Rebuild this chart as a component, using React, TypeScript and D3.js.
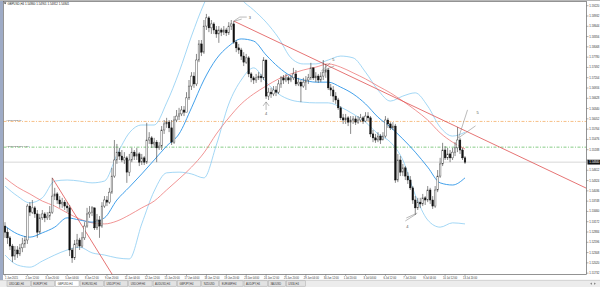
import React from "react";
import * as d3 from "d3";

const W = 600;
const H = 287;

const titleText = "GBPUSD,H4  1.54860 1.54901 1.54812 1.54841";

// H4 candles (open = previous close)
const firstOpen = 1.5305;
const closes = [
  1.5288, 1.5272, 1.5249, 1.5221, 1.5238, 1.5227, 1.5244, 1.5255, 1.5266, 1.5361,
  1.5344, 1.5356, 1.5339, 1.5288, 1.5328, 1.5339, 1.5328, 1.5333, 1.5344, 1.5389,
  1.5395, 1.5378, 1.5367, 1.5372, 1.5361, 1.5356, 1.5238, 1.5216, 1.5255, 1.5266,
  1.5249, 1.5272, 1.5305, 1.5339, 1.5344, 1.5356, 1.5300, 1.5322, 1.5305, 1.5361,
  1.5378, 1.5372, 1.5400, 1.5445, 1.5490, 1.5512, 1.5501, 1.5490, 1.5496, 1.5456,
  1.5490, 1.5512, 1.5501, 1.5507, 1.5484, 1.5496, 1.5484, 1.5546, 1.5552, 1.5535,
  1.5540, 1.5524, 1.5529, 1.5574, 1.5591, 1.5596, 1.5580, 1.5540, 1.5602, 1.5613,
  1.5619, 1.5630, 1.5624, 1.5664, 1.5697, 1.5725, 1.5703, 1.5770, 1.5815, 1.5792,
  1.5865, 1.5888, 1.5860, 1.5871, 1.5854, 1.5843, 1.5854, 1.5848, 1.5854, 1.5846,
  1.5865, 1.5871, 1.5820, 1.5804, 1.5798, 1.5781, 1.5764, 1.5776, 1.5731, 1.5720,
  1.5714, 1.5720, 1.5725, 1.5720, 1.5770, 1.5669, 1.5680, 1.5675, 1.5686, 1.5680,
  1.5703, 1.5720, 1.5714, 1.5720, 1.5714, 1.5720, 1.5731, 1.5703, 1.5708, 1.5697,
  1.5708, 1.5714, 1.5720, 1.5748, 1.5720, 1.5725, 1.5714, 1.5725, 1.5736, 1.5742,
  1.5692, 1.5686, 1.5669, 1.5658, 1.5636, 1.5608, 1.5602, 1.5608, 1.5596, 1.5602,
  1.5605, 1.5596, 1.5602, 1.5608, 1.5599, 1.5613, 1.5608, 1.5563, 1.5552, 1.5546,
  1.5557, 1.5546, 1.5557, 1.5602, 1.5591, 1.5580, 1.5585, 1.5434, 1.5490, 1.5456,
  1.5468, 1.5445, 1.5434, 1.5412, 1.5378, 1.5356, 1.5372, 1.5367, 1.5384, 1.5378,
  1.5406, 1.5378, 1.5361, 1.5406, 1.5445, 1.5479, 1.5518, 1.5496, 1.5507, 1.5496,
  1.5512, 1.5524, 1.5546, 1.5518, 1.5496, 1.5484,
];
const highs = [
  1.5316, 1.5300, 1.5277, 1.5255, 1.5249, 1.5249, 1.5255, 1.5272, 1.5277, 1.5367,
  1.5372, 1.5378, 1.5361, 1.5350, 1.5339, 1.5350, 1.5344, 1.5344, 1.5361, 1.5440,
  1.5412, 1.5400, 1.5389, 1.5384, 1.5378, 1.5372, 1.5364, 1.5244, 1.5266, 1.5283,
  1.5272, 1.5288, 1.5316, 1.5356, 1.5361, 1.5361, 1.5356, 1.5339, 1.5333, 1.5372,
  1.5389, 1.5389, 1.5412, 1.5468, 1.5546, 1.5535, 1.5524, 1.5518, 1.5512, 1.5501,
  1.5507, 1.5524, 1.5518, 1.5524, 1.5512, 1.5507, 1.5501, 1.5594, 1.5568, 1.5557,
  1.5552, 1.5546, 1.5540, 1.5585, 1.5602, 1.5608, 1.5602, 1.5602, 1.5613, 1.5630,
  1.5636, 1.5641, 1.5641, 1.5680, 1.5714, 1.5736, 1.5736, 1.5787, 1.5826, 1.5826,
  1.5882, 1.5899, 1.5893, 1.5882, 1.5876, 1.5865, 1.5865, 1.5860, 1.5865, 1.5860,
  1.5876, 1.5882, 1.5879, 1.5826, 1.5815, 1.5804, 1.5792, 1.5787, 1.5781, 1.5736,
  1.5725, 1.5731, 1.5736, 1.5731, 1.5778, 1.5770, 1.5692, 1.5692, 1.5697, 1.5697,
  1.5714, 1.5725, 1.5728, 1.5731, 1.5725, 1.5728, 1.5748, 1.5742, 1.5720, 1.5714,
  1.5720, 1.5725, 1.5731, 1.5762, 1.5742, 1.5736, 1.5731, 1.5736, 1.5770, 1.5759,
  1.5748, 1.5703, 1.5697, 1.5680, 1.5664, 1.5641, 1.5619, 1.5619, 1.5613, 1.5613,
  1.5613, 1.5613, 1.5613, 1.5619, 1.5613, 1.5624, 1.5624, 1.5613, 1.5574, 1.5563,
  1.5568, 1.5563, 1.5568, 1.5613, 1.5608, 1.5596, 1.5596, 1.5591, 1.5507, 1.5501,
  1.5479, 1.5473, 1.5456, 1.5445, 1.5417, 1.5389, 1.5384, 1.5384, 1.5395, 1.5389,
  1.5417, 1.5412, 1.5389, 1.5417, 1.5462, 1.5496, 1.5538, 1.5529, 1.5524, 1.5518,
  1.5524, 1.5540, 1.5582, 1.5552, 1.5524, 1.5501,
];
const lows = [
  1.5272, 1.5255, 1.5238, 1.5204, 1.5210, 1.5216, 1.5221, 1.5232, 1.5244, 1.5255,
  1.5333, 1.5339, 1.5328, 1.5272, 1.5283, 1.5322, 1.5316, 1.5322, 1.5322, 1.5339,
  1.5378, 1.5367, 1.5356, 1.5356, 1.5350, 1.5344, 1.5221, 1.5202, 1.5210, 1.5244,
  1.5238, 1.5244, 1.5266, 1.5300, 1.5328, 1.5333, 1.5294, 1.5294, 1.5272, 1.5300,
  1.5356, 1.5361, 1.5367, 1.5395, 1.5440, 1.5479, 1.5490, 1.5484, 1.5479, 1.5426,
  1.5445, 1.5484, 1.5490, 1.5490, 1.5473, 1.5476, 1.5476, 1.5479, 1.5535, 1.5524,
  1.5524, 1.5484, 1.5518, 1.5518, 1.5563, 1.5580, 1.5568, 1.5532, 1.5535, 1.5596,
  1.5602, 1.5613, 1.5613, 1.5624, 1.5658, 1.5686, 1.5692, 1.5697, 1.5764, 1.5781,
  1.5787, 1.5854, 1.5848, 1.5843, 1.5843, 1.5832, 1.5818, 1.5837, 1.5840, 1.5837,
  1.5840, 1.5854, 1.5815, 1.5792, 1.5787, 1.5770, 1.5753, 1.5759, 1.5722, 1.5708,
  1.5703, 1.5706, 1.5714, 1.5708, 1.5714, 1.5661, 1.5658, 1.5664, 1.5669, 1.5669,
  1.5675, 1.5692, 1.5703, 1.5708, 1.5703, 1.5708, 1.5714, 1.5697, 1.5697, 1.5652,
  1.5692, 1.5686, 1.5703, 1.5714, 1.5714, 1.5708, 1.5706, 1.5708, 1.5714, 1.5720,
  1.5686, 1.5669, 1.5652, 1.5647, 1.5630, 1.5602, 1.5591, 1.5591, 1.5585, 1.5563,
  1.5591, 1.5588, 1.5591, 1.5596, 1.5591, 1.5596, 1.5599, 1.5554, 1.5540, 1.5538,
  1.5540, 1.5535, 1.5546, 1.5552, 1.5580, 1.5574, 1.5574, 1.5426, 1.5428, 1.5445,
  1.5445, 1.5434, 1.5423, 1.5406, 1.5367, 1.5336, 1.5350, 1.5356, 1.5361, 1.5364,
  1.5372, 1.5367, 1.5353, 1.5356, 1.5400, 1.5440, 1.5473, 1.5490, 1.5490, 1.5484,
  1.5490, 1.5501, 1.5512, 1.5507, 1.5490, 1.5479,
];

// indicator lines at these bar indices
const sampleBars = [
  0, 5, 10, 15, 20, 25, 30, 35, 40, 45, 50, 55, 60, 65, 70, 75, 80, 85, 90,
  95, 100, 105, 110, 115, 120, 125, 130, 135, 140, 145, 150, 155, 160, 165,
  170, 175, 180, 185,
];
const maFast = [
  1.5305, 1.5283, 1.5274, 1.5286, 1.5302, 1.5328, 1.5322, 1.5316, 1.5328, 1.5378,
  1.5414, 1.5451, 1.5490, 1.5529, 1.5563, 1.5636, 1.5714, 1.5773, 1.5809, 1.5829,
  1.5823, 1.5784, 1.5750, 1.5725, 1.5714, 1.5708, 1.5708, 1.5694, 1.5675, 1.5647,
  1.5610, 1.5582, 1.5549, 1.5512, 1.5470, 1.5426, 1.5420, 1.5440,
];
const bandUpper = [
  1.5417, 1.5389, 1.5370, 1.5384, 1.5431, 1.5434, 1.5431, 1.5426, 1.5431, 1.5504,
  1.5566, 1.5588, 1.5588, 1.5650, 1.5736, 1.5837, 1.5927, 1.5994, 1.6000, 1.5941,
  1.5910, 1.5876, 1.5832, 1.5776, 1.5759, 1.5759, 1.5770, 1.5781, 1.5776, 1.5736,
  1.5686, 1.5655, 1.5669, 1.5678, 1.5641, 1.5582, 1.5557, 1.5568,
];
const bandLower = [
  1.5224, 1.5196, 1.5190, 1.5207, 1.5224, 1.5238, 1.5246, 1.5230, 1.5224, 1.5216,
  1.5213, 1.5311, 1.5403, 1.5454, 1.5456, 1.5451, 1.5440, 1.5532, 1.5647, 1.5714,
  1.5748, 1.5708, 1.5675, 1.5658, 1.5652, 1.5650, 1.5650, 1.5638, 1.5619, 1.5596,
  1.5563, 1.5540, 1.5490, 1.5392, 1.5322, 1.5302, 1.5314, 1.5311,
];
const maSlow = [
  1.5440, 1.5414, 1.5395, 1.5375, 1.5361, 1.5342, 1.5325, 1.5314, 1.5311, 1.5319,
  1.5336, 1.5356, 1.5375, 1.5406, 1.5437, 1.5470, 1.5510, 1.5563, 1.5608, 1.5647,
  1.5675, 1.5697, 1.5717, 1.5731, 1.5742, 1.5750, 1.5759, 1.5750, 1.5734, 1.5717,
  1.5697, 1.5678, 1.5655, 1.5630, 1.5602, 1.5566, 1.5540, 1.5521,
];

const timeLabels: [number, string][] = [
  [0, "1 Jun 2015"], [9, "2 Jun 12:00"], [17, "3 Jun 20:00"], [25, "5 Jun 04:00"],
  [33, "8 Jun 12:00"], [41, "9 Jun 20:00"], [49, "11 Jun 04:00"], [57, "12 Jun 12:00"],
  [65, "15 Jun 20:00"], [73, "17 Jun 04:00"], [81, "18 Jun 12:00"], [89, "19 Jun 20:00"],
  [97, "23 Jun 04:00"], [105, "24 Jun 12:00"], [113, "25 Jun 20:00"], [121, "29 Jun 04:00"],
  [129, "30 Jun 12:00"], [137, "1 Jul 20:00"], [145, "3 Jul 04:00"], [153, "6 Jul 12:00"],
  [161, "7 Jul 20:00"], [169, "9 Jul 04:00"], [177, "10 Jul 12:00"], [185, "13 Jul 20:00"],
];

const priceTicks = [
  1.5922, 1.58932, 1.58644, 1.58356, 1.58068, 1.5778, 1.57492, 1.57204, 1.56916,
  1.56628, 1.5634, 1.56052, 1.55764, 1.55476, 1.55188, 1.549, 1.54612, 1.54324,
  1.54036, 1.53748, 1.5346, 1.53172, 1.52884, 1.52596, 1.52308, 1.5202, 1.51732,
];

const trendLines = [
  { b1: 92, p1: 1.5879, b2: 182, p2: 1.5582 },
  { b1: 19, p1: 1.544, b2: 43, p2: 1.5171 },
];

const orderLines = [
  { price: 1.5598, label: "#17099862 tp", color: "#f2a452" },
  { price: 1.5526, label: "#17099862 sell 0.10", color: "#52b552" },
];
const bidPrice = 1.5484;

const waveMarks = [
  { label: "3", bar: 92, price: 1.5879 },
  { label: "4", bar: 105, price: 1.5661 },
  { label: "5", bar: 128, price: 1.5742 },
  { label: "4", bar: 165, price: 1.5336 },
  { label: "5", bar: 182, price: 1.5552 },
];

const tabs = [
  "USDCAD,H4", "EURJPY,H4", "GBPUSD,H4", "EURUSD,H4", "USDJPY,H4", "USDCHF,H4",
  "AUDUSD,H4", "GBPJPY,H4", "NZDUSD", "EURGBP,H4", "AUDJPY,H4", "XAUUSD", "US30,H4",
];
const activeTab = "GBPUSD,H4";

const FONT = "'Liberation Sans', Arial, sans-serif";

export default function App() {
  const plot = { l: 3.5, t: 1.5, r: 586.5, b: 274.5 };
  const x = d3.scaleLinear().domain([0, 185]).range([5, 465]);
  const y = d3.scaleLinear().domain([1.5168, 1.5938]).range([275, 0]);

  const candles = closes.map((c, i) => {
    const o = i === 0 ? firstOpen : closes[i - 1];
    return {
      i, o, c,
      h: Math.max(highs[i], o, c),
      l: Math.min(lows[i], o, c),
    };
  });

  const line = d3
    .line<number>()
    .x((_, k) => x(sampleBars[k]))
    .y((v) => y(v))
    .curve(d3.curveMonotoneX);

  const bodyW = 1.6;

  const ext = (t: { b1: number; p1: number; b2: number; p2: number }) => {
    const x1 = x(t.b1), y1 = y(t.p1), x2 = x(t.b2), y2 = y(t.p2);
    const s = (y2 - y1) / (x2 - x1);
    const xe = plot.r;
    return { x1, y1, x2: xe, y2: y1 + s * (xe - x1) };
  };

  let tabX = 7;
  const tabRects = tabs.map((name) => {
    const w = name.length * 2.15 + 4;
    const r = { name, x: tabX, w };
    tabX += w + 1;
    return r;
  });

  const markEls = waveMarks.map((m, k) => {
    const mx = x(m.bar);
    const my = y(m.price);
    const st = { stroke: "#777", strokeWidth: 0.5, fill: "none" };
    if (k === 0) {
      return (
        <g key={k}>
          <polyline points={`${mx},${my} ${mx + 6},${my - 4} ${mx + 13},${my - 4}`} {...st} />
          <line x1={mx + 1} y1={my} x2={mx + 8} y2={my - 2} {...st} />
          <text x={mx + 15} y={my - 2} fontSize={4} fill="#555" fontFamily={FONT}>{m.label}</text>
        </g>
      );
    }
    if (k === 1) {
      return (
        <g key={k}>
          <line x1={mx} y1={my + 3} x2={mx} y2={my + 11} {...st} />
          <polyline points={`${mx - 3},${my + 7} ${mx},${my + 3} ${mx + 3},${my + 7}`} {...st} />
          <text x={mx - 1} y={my + 16} fontSize={4} fill="#555" fontFamily={FONT}>{m.label}</text>
        </g>
      );
    }
    if (k === 2) {
      return (
        <g key={k}>
          <line x1={mx - 2} y1={my + 1} x2={mx + 7} y2={my - 7} {...st} />
          <line x1={mx - 1} y1={my + 1} x2={mx + 11} y2={my - 4} {...st} />
          <text x={mx + 9} y={my - 9} fontSize={4} fill="#555" fontFamily={FONT}>{m.label}</text>
        </g>
      );
    }
    if (k === 3) {
      return (
        <g key={k}>
          <line x1={mx - 10} y1={my + 6} x2={mx + 1} y2={my - 1} {...st} />
          <line x1={mx - 9} y1={my + 3} x2={mx + 2} y2={my - 2} {...st} />
          <text x={mx - 9} y={my + 13} fontSize={4} fill="#555" fontFamily={FONT}>{m.label}</text>
        </g>
      );
    }
    return (
      <g key={k}>
        <line x1={mx + 1} y1={my} x2={mx + 10} y2={my - 28} {...st} />
        <line x1={mx + 1} y1={my} x2={mx + 18} y2={my - 12} {...st} />
        <text x={mx + 19} y={my - 24} fontSize={4} fill="#555" fontFamily={FONT}>{m.label}</text>
      </g>
    );
  });

  const bidY = y(bidPrice);

  return (
    <svg
      width={W}
      height={H}
      viewBox={`0 0 ${W} ${H}`}
      style={{ position: "fixed", left: 0, top: 0, background: "#fff" }}
    >
      <defs>
        <clipPath id="plotClip">
          <rect x={plot.l} y={plot.t} width={plot.r - plot.l} height={plot.b - plot.t} />
        </clipPath>
      </defs>
      <rect x={0} y={0} width={W} height={H} fill="#fff" />
      <line x1={0} y1={0.5} x2={W} y2={0.5} stroke="#b8b8b8" strokeWidth={1} />
      <rect x={0} y={1} width={3} height={279} fill="#9eabc6" />

      <g clipPath="url(#plotClip)">
        {orderLines.map((o, k) => (
          <g key={k}>
            <line
              x1={plot.l} x2={plot.r} y1={y(o.price)} y2={y(o.price)}
              stroke={o.color} strokeWidth={0.7} strokeDasharray="3,1.5,1,1.5"
            />
            <text x={6} y={y(o.price) - 0.6} fontSize={2.5} fill="#444" fontFamily={FONT}>{o.label}</text>
          </g>
        ))}
        <line x1={plot.l} x2={plot.r} y1={bidY} y2={bidY} stroke="#c4c4c4" strokeWidth={0.7} />

        <path d={line(bandUpper) || ""} fill="none" stroke="#8ccdf2" strokeWidth={0.8} />
        <path d={line(bandLower) || ""} fill="none" stroke="#8ccdf2" strokeWidth={0.8} />
        <path d={line(maSlow) || ""} fill="none" stroke="#ee7a7a" strokeWidth={0.8} />
        <path d={line(maFast) || ""} fill="none" stroke="#2d95e8" strokeWidth={0.9} />

        {trendLines.map((t, k) => {
          const e = ext(t);
          return <line key={k} x1={e.x1} y1={e.y1} x2={e.x2} y2={e.y2} stroke="#e05050" strokeWidth={0.8} />;
        })}

        {candles.map((d) => {
          const cx = x(d.i);
          const top = y(Math.max(d.o, d.c));
          const bot = y(Math.min(d.o, d.c));
          const bull = d.c >= d.o;
          return (
            <g key={d.i}>
              <line x1={cx} x2={cx} y1={y(d.h)} y2={y(d.l)} stroke="#3a3a3a" strokeWidth={0.6} />
              <rect
                x={cx - bodyW / 2} y={top} width={bodyW} height={Math.max(0.6, bot - top)}
                fill={bull ? "#ffffff" : "#111111"} stroke={bull ? "#444" : "#111"} strokeWidth={0.45}
              />
            </g>
          );
        })}

        {markEls}
      </g>

      <rect x={plot.l} y={plot.t} width={plot.r - plot.l} height={plot.b - plot.t} fill="none" stroke="#666" strokeWidth={0.7} />

      <path d="M3.8,2.6 L6.4,2.6 L5.1,4.2 Z" fill="#222" />
      <text x={7.5} y={4.6} fontSize={2.9} fill="#222" fontFamily={FONT}>{titleText}</text>

      {priceTicks.map((p, k) => (
        <g key={k}>
          <line x1={plot.r} x2={plot.r + 2} y1={y(p)} y2={y(p)} stroke="#666" strokeWidth={0.5} />
          {Math.abs(y(p) - bidY) > 4.5 && (
            <text x={plot.r + 2.8} y={y(p) + 1} fontSize={2.8} fill="#333" fontFamily={FONT}>{p.toFixed(5)}</text>
          )}
        </g>
      ))}
      <rect x={plot.r + 1} y={bidY - 2.4} width={12.5} height={4.8} fill="#111" />
      <text x={plot.r + 2.8} y={bidY + 1} fontSize={2.8} fill="#fff" fontFamily={FONT}>{bidPrice.toFixed(5)}</text>

      {timeLabels.map(([b, s], k) => (
        <g key={k}>
          <line x1={x(b)} x2={x(b)} y1={plot.b} y2={plot.b + 1.5} stroke="#666" strokeWidth={0.5} />
          <text x={x(b) - (k === 0 ? 0 : 2)} y={278.8} fontSize={2.6} fill="#333" fontFamily={FONT}>{s}</text>
        </g>
      ))}

      <rect x={0} y={280} width={W} height={7} fill="#ececec" />
      <line x1={0} x2={W} y1={280.3} y2={280.3} stroke="#b5b5b5" strokeWidth={0.5} />
      {tabRects.map((t) => (
        <g key={t.name}>
          <rect
            x={t.x} y={280.8} width={t.w} height={5.4}
            fill={t.name === activeTab ? "#ffffff" : "#e2e2e2"} stroke="#a9a9a9" strokeWidth={0.5}
          />
          <text x={t.x + 2} y={284.6} fontSize={2.6} fill="#333" fontFamily={FONT}>{t.name}</text>
        </g>
      ))}
      <path d="M590,283.7 L592,282.6 L592,284.8 Z" fill="#888" />
      <path d="M596,283.7 L594,282.6 L594,284.8 Z" fill="#888" />
    </svg>
  );
}
